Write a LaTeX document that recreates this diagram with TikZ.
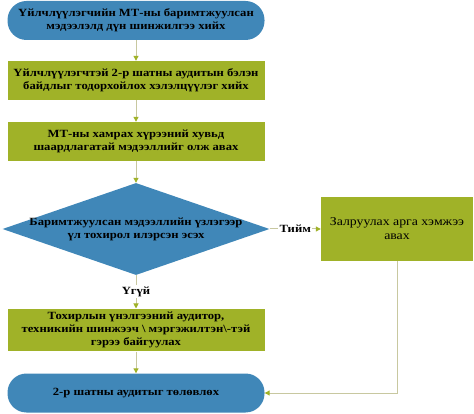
\documentclass[tikz,border=0pt]{standalone}
\usepackage{fontspec}
\setmainfont{Liberation Serif}[FakeStretch=1.15]
\usetikzlibrary{arrows.meta,shapes.geometric}

\definecolor{stepblue}{RGB}{64,135,184}
\definecolor{stepgreen}{RGB}{160,178,40}
\definecolor{flowline}{RGB}{200,200,160}

\tikzset{
  terminal/.style={rectangle,rounded corners=19pt,fill=stepblue,minimum width=257pt,
    minimum height=39pt,align=center,font=\bfseries\fontsize{11}{13}\selectfont},
  stepbox/.style={rectangle,fill=stepgreen,minimum width=257pt,minimum height=39pt,
    align=center,font=\bfseries\fontsize{11}{13}\selectfont},
  decision/.style={diamond,fill=stepblue,minimum width=267pt,minimum height=92pt,inner sep=0pt},
  flow/.style={draw=flowline,line width=1pt,-{Triangle[length=5pt,width=5pt,color=stepgreen]}},
  answer/.style={fill=white,inner sep=1.5pt,font=\bfseries\fontsize{11}{13}\selectfont}
}

\begin{document}
\begin{tikzpicture}[x=1pt,y=-1pt]
  \useasboundingbox (0,0) rectangle (474,414);

  \node[terminal] (start) at (136,20.5) {Үйлчлүүлэгчийн МТ-ны баримтжуулсан\\мэдээлэлд дүн шинжилгээ хийх};
  \node[stepbox] (ctx) at (136,80.5) {Үйлчлүүлэгчтэй 2-р шатны аудитын бэлэн\\байдлыг тодорхойлох хэлэлцүүлэг хийх};
  \node[stepbox] (info) at (136,141.5) {МТ-ны хамрах хүрээний хувьд\\шаардлагатай мэдээллийг олж авах};
  \node[decision] (check) at (136,229) {};
  \node[align=center,font=\bfseries\fontsize{11}{13}\selectfont] (checktext) at (check)
    {Баримтжуулсан мэдээллийн үзлэгээр\\үл тохирол илэрсэн эсэх};
  \node[stepbox,minimum width=152pt,minimum height=64pt,font=\fontsize{12}{14}\selectfont] (fix) at (397,229)
    {Залруулах арга хэмжээ\\авах};
  \node[stepbox,minimum height=42pt] (contract) at (136,330)
    {Тохирлын үнэлгээний аудитор,\\техникийн шинжээч \textbackslash\ мэргэжилтэн\textbackslash-тэй\\гэрээ байгуулах};
  \node[terminal] (plan) at (136,393) {2-р шатны аудитыг төлөвлөх};

  \draw[flow] (start) -- (ctx);
  \draw[flow] (ctx) -- (info);
  \draw[flow] (info) -- (check);
  \draw[flow] (check) -- node[answer] {Үгүй} (contract);
  \draw[flow] (check) -- node[answer] {Тийм} (fix);
  \draw[flow] (contract) -- (plan);
  \draw[flow] (fix) |- (plan);
\end{tikzpicture}
\end{document}
